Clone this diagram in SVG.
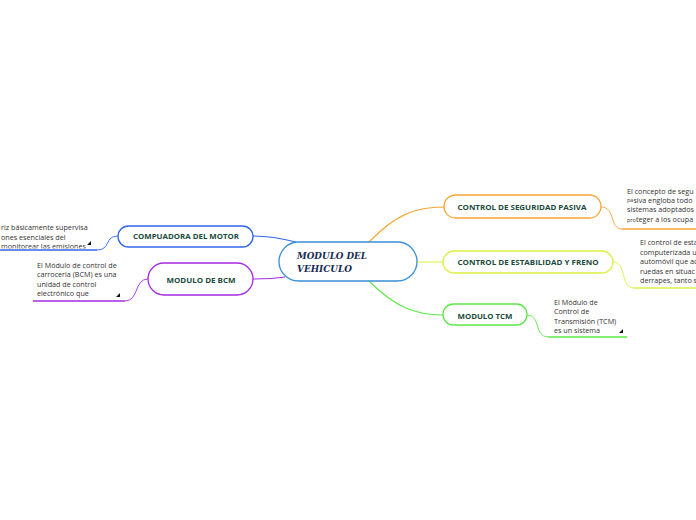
<svg xmlns="http://www.w3.org/2000/svg" width="696" height="520" viewBox="0 0 696 520">
<style>
.node{fill:#fff;stroke-width:1.3}
.lbl{font-family:"Open Sans","Noto Sans",sans-serif;font-weight:700;font-size:7.8px;fill:#1b4a3c;text-anchor:middle}
.note{font-family:"Open Sans","Noto Sans",sans-serif;font-size:7.2px;fill:#333}
.con{fill:none;stroke-width:1.1}
.sub{fill:none;stroke-width:0.9}
.ul{fill:none;stroke-width:1.7}
.tri{fill:#111}
</style>
<defs>
<clipPath id="clipBlue"><rect x="0" y="215" width="120" height="33.5"/></clipPath>
</defs>
<rect width="696" height="520" fill="#fff"/>
<g id="connectors">
<path class="con" stroke="#3366ee" d="M296,242 C280,238 268,236 253,236"/>
<path class="con" stroke="#a52ae6" d="M285,277 C272,279 262,279 253,279"/>
<path class="con" stroke="#f7a534" d="M369,242 C395,215 415,207 444,207"/>
<path class="con" stroke="#ddf046" d="M417,262 L443,262"/>
<path class="con" stroke="#5de84a" d="M369,281 C395,307 415,315 443,315"/>
<path class="sub" stroke="#f7a534" d="M601,207 C616,207 609,229 622,229"/>
<path class="sub" stroke="#ddf046" d="M613,262 C627,262 620,288 634,288"/>
<path class="sub" stroke="#5de84a" d="M527,315 C541,315 534,337 548,337"/>
<path class="sub" stroke="#3366ee" d="M118,236 C104,236 111,250 97,250"/>
<path class="sub" stroke="#a52ae6" d="M148,279 C134,279 139,301 125,301"/>
</g>
<g id="central">
<rect class="node" x="279" y="242" width="138" height="39" rx="19.5" stroke="#3a8fd6"/>
<text font-family="'DejaVu Serif','Liberation Serif',serif" font-weight="700" font-style="italic" font-size="10" fill="#172a52"><tspan x="297" y="259" textLength="70" lengthAdjust="spacingAndGlyphs">MODULO DEL</tspan><tspan x="297" y="271.5" textLength="55" lengthAdjust="spacingAndGlyphs">VEHICULO</tspan></text>
</g>
<g id="motor">
<rect class="node" x="118" y="226" width="135" height="21" rx="10.5" stroke="#3366ee"/>
<text class="lbl" x="186" y="239" textLength="106" lengthAdjust="spacingAndGlyphs">COMPUADORA DEL MOTOR</text>
</g>
<g id="motor-note">
<g clip-path="url(#clipBlue)">
<text class="note"><tspan x="1" y="229.5">riz básicamente supervisa</tspan><tspan x="1" y="239.5">ones esenciales del</tspan><tspan x="1" y="249">monitorear las emisiones</tspan></text>
</g>
<path class="ul" stroke="#3366ee" d="M0,250 L97,250"/>
<path class="tri" d="M91,241 L91,245 L87,245 Z"/>
</g>
<g id="bcm">
<rect class="node" x="148" y="263" width="105" height="32" rx="16" stroke="#a52ae6"/>
<text class="lbl" x="201" y="282.5" textLength="69" lengthAdjust="spacingAndGlyphs">MODULO DE BCM</text>
</g>
<g id="bcm-note">
<text class="note"><tspan x="37" y="267.5">El Módulo de control de</tspan><tspan x="37" y="277">carroceria (BCM) es una</tspan><tspan x="37" y="286.5">unidad de control</tspan><tspan x="37" y="296">electrónico que</tspan></text>
<path class="ul" stroke="#a52ae6" d="M33,301 L125,301"/>
<path class="tri" d="M120,293 L120,297 L116,297 Z"/>
</g>
<g id="seguridad">
<rect class="node" x="444" y="195" width="157" height="23" rx="11.5" stroke="#f7a534"/>
<text class="lbl" x="522" y="210" textLength="129" lengthAdjust="spacingAndGlyphs">CONTROL DE SEGURIDAD PASIVA</text>
</g>
<g id="seguridad-note">
<text class="note"><tspan x="627" y="194">El concepto de segu</tspan><tspan x="627" y="202.5"><tspan font-size="5.5" dy="-1">pa</tspan><tspan dy="1">siva engloba todo</tspan></tspan><tspan x="627" y="212">sistemas adoptados</tspan><tspan x="627" y="221.5"><tspan font-size="5.5">pro</tspan>teger a los ocupa</tspan></text>
<path class="ul" stroke="#f7a534" d="M622,229 L696,229"/>
</g>
<g id="estabilidad">
<rect class="node" x="443" y="251" width="170" height="22" rx="11" stroke="#ddf046"/>
<text class="lbl" x="528" y="265" textLength="141" lengthAdjust="spacingAndGlyphs">CONTROL DE ESTABILIDAD Y FRENO</text>
</g>
<g id="estabilidad-note">
<text class="note"><tspan x="640" y="244.5">El control de esta</tspan><tspan x="640" y="254.5">computerizada u</tspan><tspan x="640" y="263.5">automóvil que ac</tspan><tspan x="640" y="273.5">ruedas en situac</tspan><tspan x="640" y="282.5">derrapes, tanto s</tspan></text>
<path class="ul" stroke="#ddf046" d="M634,288 L696,288"/>
</g>
<g id="tcm">
<rect class="node" x="443" y="304" width="84" height="21" rx="10.5" stroke="#5de84a"/>
<text class="lbl" x="485" y="319" textLength="55" lengthAdjust="spacingAndGlyphs">MODULO TCM</text>
</g>
<g id="tcm-note">
<text class="note"><tspan x="554" y="304.5">El Módulo de</tspan><tspan x="554" y="313.5">Control de</tspan><tspan x="554" y="323.5">Transmisión (TCM)</tspan><tspan x="554" y="332.5">es un sistema</tspan></text>
<path class="ul" stroke="#5de84a" d="M548,337 L627,337"/>
<path class="tri" d="M623,329 L623,333 L619,333 Z"/>
</g>
</svg>
